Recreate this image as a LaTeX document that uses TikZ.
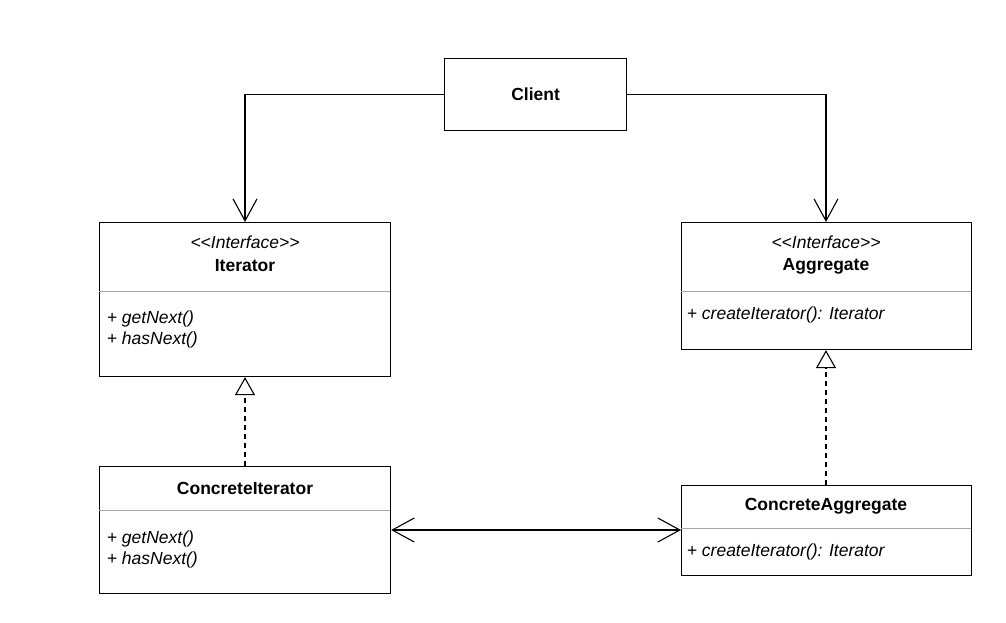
\documentclass[tikz,border=0pt]{standalone}
\usepackage{fontspec}
\setmainfont{Liberation Sans}
\usetikzlibrary{arrows.meta,positioning}
\begin{document}
\begin{tikzpicture}[x=1pt, y=-1pt, line width=1.1pt, font=\fontsize{17.5}{21}\selectfont]

    % Styles
    \tikzset{box/.style={draw, anchor=north west, inner sep=0pt},
             sep/.style={draw=black!35, line width=0.8pt},
             barb/.tip={Straight Barb[length=22pt, width=24pt, line width=1.1pt]},
             assoc/.style={-barb},
             realize/.style={dashed, dash pattern=on 5pt off 4pt, -{Triangle[open, length=18pt, width=20pt, line width=1.1pt]}},
             member/.style={anchor=west, align=left, font=\fontsize{17.5}{21}\selectfont\itshape}}

    \useasboundingbox (0,0) rectangle (1006,622);

    % Boxes
    \node (client) [box, minimum width=182pt, minimum height=72pt] at (444,58) {\textbf{Client}};
    \node (iter) [box, minimum width=291pt, minimum height=154pt] at (99,222) {};
    \node (aggr) [box, minimum width=290pt, minimum height=127pt] at (681,222) {};
    \node (citer) [box, minimum width=291pt, minimum height=127pt] at (99,466) {};
    \node (caggr) [box, minimum width=290pt, minimum height=90pt] at (681,485) {};

    % Separators
    \draw [sep] (99,291) -- (390,291);
    \draw [sep] (681,291) -- (971,291);
    \draw [sep] (99,510) -- (390,510);
    \draw [sep] (681,528) -- (971,528);

    % Texts
    \node (iterst) at (245,242) {\itshape <{}<Interface>{}>};
    \node (itername) at (245,266) {\textbf{Iterator}};
    \node (itermem) [member] at (103,329) {+ getNext()\\+ hasNext()};
    \node (aggrst) at (826,242) {\itshape <{}<Interface>{}>};
    \node (aggrname) at (826,266) {\textbf{Aggregate}};
    \node (aggrmem) [member] at (683,315) {+ createIterator(): Iterator};
    \node (citername) at (245,488) {\textbf{ConcreteIterator}};
    \node (citermem) [member] at (103,549) {+ getNext()\\+ hasNext()};
    \node (caggrname) at (826,506) {\textbf{ConcreteAggregate}};
    \node (caggrmem) [member] at (683,552) {+ createIterator(): Iterator};

    % Connectors
    \draw [assoc] (client.west) -| (iter.north -| 245,0);
    \draw [assoc] (client.east) -| (aggr.north -| 826,0);
    \draw [realize] (citer.north -| 245,0) -- (iter.south -| 245,0);
    \draw [realize] (caggr.north -| 826,0) -- (aggr.south -| 826,0);
    \draw [barb-barb] (citer.east |- 0,530) -- (caggr.west |- 0,530);

\end{tikzpicture}
\end{document}
